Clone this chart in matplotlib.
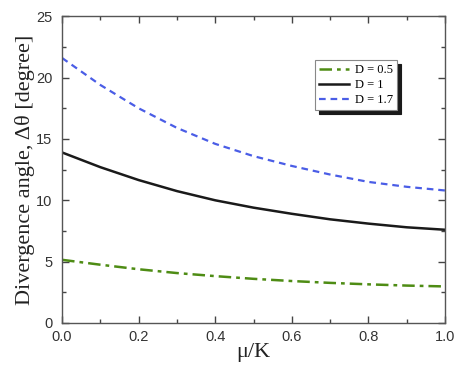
import matplotlib
matplotlib.use("Agg")
import matplotlib.pyplot as plt
from matplotlib.ticker import MultipleLocator, FormatStrFormatter

x = [0.0, 0.1, 0.2, 0.3, 0.4, 0.5, 0.6, 0.7, 0.8, 0.9, 1.0]
d05 = [5.15, 4.75, 4.38, 4.07, 3.82, 3.60, 3.42, 3.27, 3.15, 3.05, 2.98]
d1 = [13.9, 12.7, 11.65, 10.75, 10.0, 9.4, 8.9, 8.45, 8.1, 7.8, 7.6]
d17 = [21.6, 19.4, 17.5, 15.9, 14.6, 13.6, 12.8, 12.1, 11.5, 11.1, 10.8]
labels = ["D = 0.5", "D = 1", "D = 1.7"]

plt.rcParams["font.family"] = ["Liberation Sans"]

fig = plt.figure(figsize=(4.74, 3.66), dpi=100)
ax = fig.add_axes([0.131, 0.1175, 0.808, 0.838])

ax.plot(x, d05, color="#4e8c14", lw=1.8, dashes=(5, 2, 1.5, 2), label=labels[0])
ax.plot(x, d1, color="#1a1a1a", lw=1.8, label=labels[1])
ax.plot(x, d17, color="#4a5de6", lw=1.6, dashes=(3, 2.2), label=labels[2])

ax.set_xlim(0, 1.0)
ax.set_ylim(0, 25)
ax.xaxis.set_major_locator(MultipleLocator(0.2))
ax.xaxis.set_minor_locator(MultipleLocator(0.1))
ax.xaxis.set_major_formatter(FormatStrFormatter("%.1f"))
ax.yaxis.set_major_locator(MultipleLocator(5))
ax.yaxis.set_minor_locator(MultipleLocator(2.5))
ax.tick_params(which="both", direction="in", top=True, right=True, color="#444444")
ax.tick_params(which="major", length=5, width=1, labelsize=10.5, labelcolor="#333333")
ax.tick_params(axis="x", which="major", pad=5)
ax.tick_params(axis="y", which="major", pad=7)
ax.tick_params(which="minor", length=3, width=1)
for s in ax.spines.values():
    s.set_color("#555555")
    s.set_linewidth(1)

ax.set_xlabel("μ/K", fontfamily="Liberation Serif", fontsize=16, color="#222222", labelpad=-1)
ax.set_ylabel("Divergence angle, Δθ [degree]", fontfamily="Liberation Serif", fontsize=16, color="#222222", labelpad=1)

leg = ax.legend(loc="upper left", bbox_to_anchor=(0.66, 0.857), borderaxespad=0,
                prop={"family": "Liberation Serif", "size": 9},
                frameon=True, fancybox=False, edgecolor="#888888", framealpha=1, handlelength=2.4,
                borderpad=0.3, labelspacing=0.25, handletextpad=0.5,
                shadow={"ox": 3, "oy": -3, "color": "#1a1a1a", "alpha": 1})
leg.get_frame().set_linewidth(0.8)

fig.savefig("out.png", dpi=100)
